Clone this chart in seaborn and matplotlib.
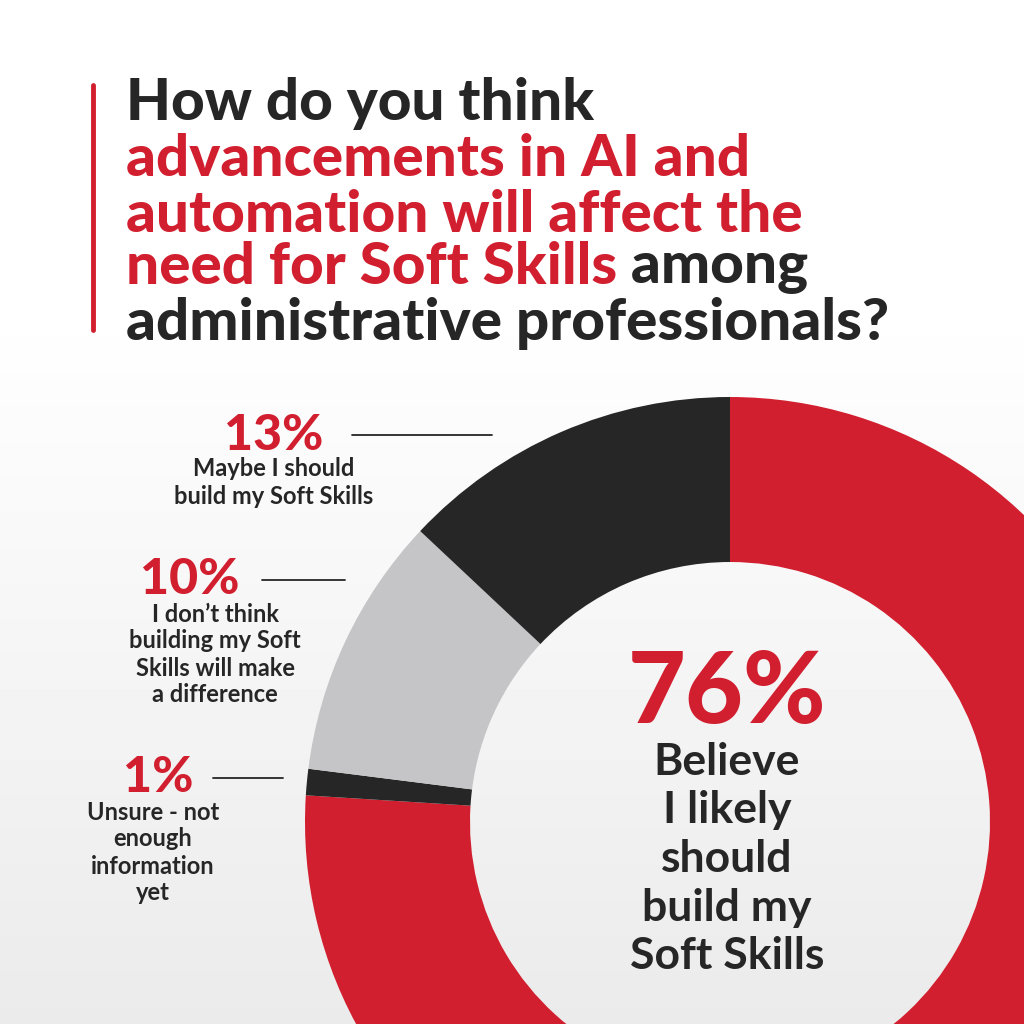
import matplotlib.pyplot as plt
import numpy as np
import seaborn as sns

# survey shares (clockwise from the top)
shares = [76, 1, 10, 13]
share_colors = ["#D21F2F", "#262626", "#C5C5C7", "#262626"]

title_lines = ["How do you think", "advancements in AI and", "automation will affect the",
               "need for Soft Skills", " among", "administrative professionals?"]
side_labels = [
    ("13%", ["Maybe I should", "build my Soft Skills"]),
    ("10%", ["I don’t think", "building my Soft", "Skills will make", "a difference"]),
    ("1%", ["Unsure - not", "enough", "information", "yet"]),
]
center_pct = "76%"
center_lines = ["Believe", "I likely", "should", "build my", "Soft Skills"]

RED = "#D21F2F"
DARK = "#262626"

sns.set_theme(style="white")
plt.rcParams["font.family"] = ["Lato", "DejaVu Sans"]

fig = plt.figure(figsize=(10.24, 10.24), dpi=100)
ax = fig.add_axes([0, 0, 1, 1])

# background gradient
grad = np.concatenate([np.ones(300), np.linspace(1, 0.92, 724)])[:, None]
ax.imshow(np.repeat(grad, 2, axis=1), cmap="gray", vmin=0, vmax=1,
          extent=[0, 1024, 1024, 0], aspect="auto", zorder=0)

# y axis is inverted, so counterclock in data space is clockwise on screen
ax.pie(shares, colors=share_colors, startangle=-90, counterclock=True,
       center=(730, 822), radius=425, frame=True,
       wedgeprops=dict(width=165, linewidth=0))
ax.set_xlim(0, 1024)
ax.set_ylim(1024, 0)
ax.set_aspect("equal")
ax.axis("off")

# title
ax.plot([93, 93], [85, 330], color=RED, lw=3.5)
fs = 42
ys = [103, 160, 215, 268, 323]
ax.text(126, ys[0], title_lines[0], color=DARK, fontsize=fs, fontweight="black", va="center")
ax.text(126, ys[1], title_lines[1], color=RED, fontsize=fs, fontweight="black", va="center")
ax.text(126, ys[2], title_lines[2], color=RED, fontsize=fs, fontweight="black", va="center")
t = ax.text(126, ys[3], title_lines[3], color=RED, fontsize=fs, fontweight="black", va="center")
fig.canvas.draw()
bb = t.get_window_extent(fig.canvas.get_renderer())
ax.text(bb.x1, ys[3], title_lines[4], color=DARK, fontsize=fs, fontweight="black", va="center")
ax.text(126, ys[4], title_lines[5], color=DARK, fontsize=fs, fontweight="black", va="center")

# side labels
label_pos = [(274, 435, 352, 492), (190, 580, 262, 345), (158, 778, 213, 283)]
text_cx = [274, 215, 153]
for (pct, lines), (cx, cy, x0, x1), tx in zip(side_labels, label_pos, text_cx):
    ax.text(cx, cy, pct, color=RED, fontsize=36, fontweight="black", ha="center", va="center")
    ax.plot([x0, x1], [cy, cy], color=DARK, lw=1.3)
    for i, ln in enumerate(lines):
        ax.text(tx, cy + 34 + 27 * i, ln, color=DARK, fontsize=17, fontweight="bold",
                ha="center", va="center")

# center text
ax.text(727, 695, center_pct, color=RED, fontsize=72, fontweight="black", ha="center", va="center")
for i, ln in enumerate(center_lines):
    ax.text(727, 762 + 48.5 * i, ln, color=DARK, fontsize=32, fontweight="bold",
            ha="center", va="center")

fig.savefig("out.png", dpi=100)
